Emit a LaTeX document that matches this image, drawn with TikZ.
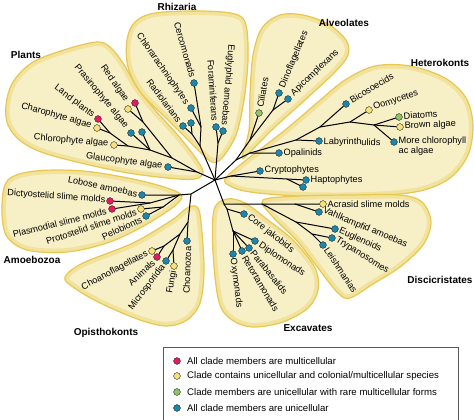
\documentclass[tikz,border=0pt]{standalone}
\usepackage{fontspec}
\setmainfont{Liberation Sans}
\pgfdeclarelayer{bg}
\pgfdeclarelayer{edges}
\pgfsetlayers{bg,edges,main}
\definecolor{blobfill}{RGB}{247,239,198}
\definecolor{blobrimc}{RGB}{241,226,156}
\definecolor{blobedge}{RGB}{232,199,82}
\definecolor{cRed}{RGB}{230,26,96}
\definecolor{cYel}{RGB}{246,226,120}
\definecolor{cGrn}{RGB}{140,198,105}
\definecolor{cBlu}{RGB}{26,135,175}
\tikzset{
 leaf/.style={circle,draw=black!85,line width=0.4pt,minimum size=6.8pt,inner sep=0pt},
 leafR/.style={leaf,fill=cRed},
 leafY/.style={leaf,fill=cYel},
 leafG/.style={leaf,fill=cGrn},
 leafB/.style={leaf,fill=cBlu},
 br/.style={draw=black,line width=1pt,line cap=round},
 lab/.style={font=\fontsize{9.2}{10}\selectfont,inner sep=0.5pt},
 legtxt/.style={font=\fontsize{9.6}{11}\selectfont,inner sep=0pt,anchor=west},
 ttl/.style={font=\fontsize{10}{12}\selectfont\bfseries,inner sep=0pt},
}
\newcommand\cladeblob[1]{%
 \fill[blobfill] plot[smooth cycle,tension=0.55] coordinates {#1};
 \begin{scope}
 \clip plot[smooth cycle,tension=0.55] coordinates {#1};
 \draw[blobrimc,line width=8pt] plot[smooth cycle,tension=0.55] coordinates {#1};
 \end{scope}
 \draw[blobedge,line width=1.2pt] plot[smooth cycle,tension=0.55] coordinates {#1};}
\begin{document}
\begin{tikzpicture}[x=1pt,y=-1pt]
\useasboundingbox (0,0) rectangle (474,420);
\begin{pgfonlayer}{bg}
% Plants
\cladeblob{(203,172) (195,157) (176,133) (155,110) (137,87) (123,63) (110,47) (97,42) (67,49) (33,62) (13,82) (6,105) (8,125) (22,142) (50,155) (117,171) (167,178) (195,179)}
% Rhizaria
\cladeblob{(212,162) (198,150) (168,120) (141,93) (128,67) (127,40) (135,22) (155,13) (200,11) (235,14) (246,25) (248,60) (244,100) (236,135) (222,158)}
% Alveolates
\cladeblob{(242,158) (249,130) (250,95) (253,55) (262,28) (280,15) (303,15) (328,24) (346,40) (348,55) (335,72) (305,100) (275,127) (252,150)}
% Heterokonts
\cladeblob{(225,179) (240,165) (262,148) (290,126) (318,102) (345,80) (375,66) (410,66) (445,78) (466,98) (473,125) (468,155) (450,178) (420,191) (370,196) (300,196) (250,192) (230,186)}
% Discicristates
\cladeblob{(263,200) (300,196) (350,195) (400,195) (422,202) (431,222) (423,245) (400,267) (373,284) (350,298) (338,293) (318,268) (298,242) (272,216)}
% Excavates
\cladeblob{(227,199) (245,203) (268,220) (294,241) (315,268) (318,290) (308,308) (283,322) (253,327) (232,320) (219,302) (213,253) (214,210)}
% Amoebozoa
\cladeblob{(182,196) (167,188) (133,179) (83,171) (35,171) (8,180) (2,205) (6,235) (27,250) (67,252) (107,243) (140,228) (172,208)}
% Opisthokonts
\cladeblob{(65,277) (83,263) (133,243) (172,220) (187,208) (197,207) (201,222) (204,270) (200,303) (187,320) (167,326) (140,320) (100,303) (73,287)}
\end{pgfonlayer}

% ---------- internal nodes ----------
\coordinate (R) at (215,180);
\coordinate (P1) at (197,172);
\coordinate (P2) at (172,158);
\coordinate (PR) at (143,122);
\coordinate (P3) at (150,150);
\coordinate (P4) at (128,146);
\coordinate (P5) at (110,133);
\coordinate (Z1) at (200,146);
\coordinate (ZR) at (192,134);
\coordinate (ZC) at (201,127);
\coordinate (ZF) at (218,143);
\coordinate (S) at (236,160);
\coordinate (A0) at (250,140);
\coordinate (AD) at (273,110);
\coordinate (H0) at (250,153);
\coordinate (H1) at (296,140);
\coordinate (H2) at (320,127);
\coordinate (H3) at (350,122);
\coordinate (H4) at (374,125);
\coordinate (C0) at (231,176);
\coordinate (CH) at (287,179);
\coordinate (X0) at (224,204);
\coordinate (D0) at (262,204);
\coordinate (DV) at (295,204);
\coordinate (E0) at (296,222);
\coordinate (E1) at (312,234);
\coordinate (X1) at (227,209);
\coordinate (X2) at (233,231);
\coordinate (U0) at (191,194);
\coordinate (A1) at (179,195);
\coordinate (AM1) at (150,203);
\coordinate (AM2) at (163,207);
\coordinate (O1) at (188,222);
\coordinate (O2) at (180,234);
\coordinate (OA) at (164,246);
\coordinate (OF) at (173,250);

% ---------- leaves ----------
\node[leafB] (glau) at (168,167) {};
\node[leafR] (redA) at (135,103) {};
\node[leafY] (redB) at (128,109) {};
\node[leafB] (prasA) at (131,133) {};
\node[leafB] (prasB) at (142,132) {};
\node[leafY] (chlo) at (114,145) {};
\node[leafR] (land) at (98,119) {};
\node[leafY] (charo) at (97,128) {};
\node[leafB] (rad1) at (183,126) {};
\node[leafB] (rad2) at (191,123) {};
\node[leafB] (cerc) at (194,83) {};
\node[leafB] (chlr) at (191,108) {};
\node[leafB] (fora) at (216,127) {};
\node[leafB] (eugA) at (223,131) {};
\node[leafG] (cil) at (259,113) {};
\node[leafB] (dino) at (279,93) {};
\node[leafB] (apic) at (288,99) {};
\node[leafB] (opal) at (279,153) {};
\node[leafB] (laby) at (319,141) {};
\node[leafB] (bico) at (346,104) {};
\node[leafY] (oomy) at (369,110) {};
\node[leafG] (diat) at (399,117) {};
\node[leafY] (brow) at (400,127) {};
\node[leafB] (more) at (394,142) {};
\node[leafB] (cryp) at (260,171) {};
\node[leafB] (hap1) at (306,180) {};
\node[leafB] (hap2) at (303,187) {};
\node[leafY] (acra) at (323,204) {};
\node[leafB] (vahl) at (319,212) {};
\node[leafB] (eugN) at (335,229) {};
\node[leafB] (tryp) at (332,238) {};
\node[leafB] (leis) at (323,245) {};
\node[leafB] (jako) at (244,214) {};
\node[leafB] (dipl) at (255,241) {};
\node[leafB] (para) at (249,248) {};
\node[leafB] (retr) at (242,251) {};
\node[leafB] (oxym) at (233,254) {};
\node[leafB] (lobo) at (142,195) {};
\node[leafR] (dict) at (110,201) {};
\node[leafR] (plas) at (112,209) {};
\node[leafY] (prot) at (141,209) {};
\node[leafB] (pelo) at (146,216) {};
\node[leafY] (chof) at (152,251) {};
\node[leafR] (anim) at (157,257) {};
\node[leafB] (micr) at (166,261) {};
\node[leafY] (fung) at (174,266) {};
\node[leafB] (choz) at (187,241) {};

% ---------- branches ----------
\begin{pgfonlayer}{edges}
% plants
\draw[br] (R) -- (P1) -- (glau);
\draw[br] (P1) -- (P2) -- (PR) -- (redA);
\draw[br] (PR) -- (redB);
\draw[br] (P2) -- (P3) -- (prasA);
\draw[br] (P3) -- (prasB);
\draw[br] (P3) -- (P4) -- (chlo);
\draw[br] (P4) -- (P5) -- (land);
\draw[br] (P5) -- (charo);
% rhizaria
\draw[br] (R) -- (Z1) -- (ZR) -- (rad1);
\draw[br] (ZR) -- (rad2);
\draw[br] (Z1) -- (ZC) -- (cerc);
\draw[br] (ZC) -- (chlr);
\draw[br] (R) -- (ZF) -- (fora);
\draw[br] (ZF) -- (eugA);
% alveolates + heterokonts
\draw[br] (R) -- (S) -- (A0) -- (cil);
\draw[br] (A0) -- (AD) -- (dino);
\draw[br] (AD) -- (apic);
\draw[br] (S) -- (H0) -- (opal);
\draw[br] (H0) -- (H1) -- (laby);
\draw[br] (H1) -- (H2) -- (bico);
\draw[br] (H2) -- (H3) -- (oomy);
\draw[br] (H3) -- (H4) -- (diat);
\draw[br] (H4) -- (brow);
\draw[br] (H4) -- (more);
% cryptophytes / haptophytes
\draw[br] (R) -- (C0) -- (cryp);
\draw[br] (C0) -- (CH) -- (hap1);
\draw[br] (CH) -- (hap2);
% excavates / discicristates
\draw[br] (R) -- (X0) -- (D0) -- (DV) -- (acra);
\draw[br] (DV) -- (vahl);
\draw[br] (D0) -- (E0) -- (eugN);
\draw[br] (E0) -- (E1) -- (tryp);
\draw[br] (E1) -- (leis);
\draw[br] (X0) -- (X1) -- (jako);
\draw[br] (X1) -- (X2) -- (dipl);
\draw[br] (X2) -- (para);
\draw[br] (X2) -- (retr);
\draw[br] (X2) -- (oxym);
% amoebozoa / opisthokonts
\draw[br] (R) -- (U0) -- (A1) -- (lobo);
\draw[br] (A1) -- (AM1) -- (dict);
\draw[br] (AM1) -- (plas);
\draw[br] (A1) -- (AM2) -- (prot);
\draw[br] (AM2) -- (pelo);
\draw[br] (U0) -- (O1) -- (choz);
\draw[br] (O1) -- (O2) -- (OA) -- (chof);
\draw[br] (OA) -- (anim);
\draw[br] (O2) -- (OF) -- (micr);
\draw[br] (OF) -- (fung);
\end{pgfonlayer}

% ---------- labels ----------
\node[lab,anchor=east,rotate=-55] (tRed) at (127,101) {Red algae};
\node[lab,anchor=east,rotate=-50] (tPras) at (127,127) {Prasinophyte algae};
\node[lab,anchor=east,rotate=-37] (tLand) at (94,116) {Land plants};
\node[lab,anchor=east,rotate=-16] (tChar) at (92,126) {Charophyte algae};
\node[lab,anchor=east,rotate=-5] (tChlo) at (109,144) {Chlorophyte algae};
\node[lab,anchor=east,rotate=-7] (tGlau) at (163,166) {Glaucophyte algae};

\node[lab,anchor=east,rotate=-55] (tChlr) at (187,104) {Chlorarachniophytes};
\node[lab,anchor=east,rotate=-74] (tCerc) at (193,78) {Cercomonads};
\node[lab,anchor=east,rotate=-53] (tRad) at (180,122) {Radiolarians};
\node[lab,anchor=east,rotate=-86] (tFora) at (215,122) {Foraminiferans};
\node[lab,anchor=east,rotate=-95] (tEugA) at (224,126) {Euglyphid amoebas};

\node[lab,anchor=west,rotate=80] (tCil) at (260,108) {Ciliates};
\node[lab,anchor=west,rotate=67] (tDino) at (282,88) {Dinoflagellates};
\node[lab,anchor=west,rotate=44] (tApic) at (292,95) {Apicomplexans};

\node[lab,anchor=west,rotate=31] (tBico) at (350,101) {Bicosoecids};
\node[lab,anchor=west,rotate=18] (tOomy) at (373,108) {Oomycetes};
\node[lab,anchor=west,rotate=4] (tDiat) at (403,116) {Diatoms};
\node[lab,anchor=west,rotate=2] (tBrow) at (404,126) {Brown algae};
\node[lab,anchor=north west,align=left] (tMore) at (398,136) {More chlorophyll\\ac algae};
\node[lab,anchor=west,rotate=-1] (tLaby) at (323,142) {Labyrinthulids};
\node[lab,anchor=west] (tOpal) at (283,153) {Opalinids};
\node[lab,anchor=west] (tCryp) at (264,170) {Cryptophytes};
\node[lab,anchor=west] (tHap) at (310,180) {Haptophytes};

\node[lab,anchor=west] (tAcra) at (327,204) {Acrasid slime molds};
\node[lab,anchor=west,rotate=-23] (tVahl) at (323,210) {Vahlkampfid amoebas};
\node[lab,anchor=west,rotate=-25] (tEugN) at (339,230) {Euglenoids};
\node[lab,anchor=west,rotate=-32] (tTryp) at (336,239) {Trypanosomes};
\node[lab,anchor=west,rotate=-56] (tLeis) at (326,248) {Leishmanias};

\node[lab,anchor=west,rotate=-38] (tJako) at (248,216) {Core jakobids};
\node[lab,anchor=west,rotate=-34] (tDipl) at (259,244) {Diplomonads};
\node[lab,anchor=west,rotate=-51] (tPara) at (252,251) {Parabasalids};
\node[lab,anchor=west,rotate=-59] (tRetr) at (244,256) {Retortamonads};
\node[lab,anchor=west,rotate=-83] (tOxym) at (233,258) {Oxymonads};

\node[lab,anchor=east,rotate=-12] (tLobo) at (138,194) {Lobose amoebas};
\node[lab,anchor=east,rotate=-4] (tDict) at (106,200) {Dictyostelid slime molds};
\node[lab,anchor=east,rotate=14] (tPlas) at (107,211) {Plasmodial slime molds};
\node[lab,anchor=east,rotate=18] (tProt) at (137,212) {Protostelid slime molds};
\node[lab,anchor=east,rotate=25] (tPelo) at (142,219) {Pelobionts};

\node[lab,anchor=east,rotate=28] (tChof) at (148,253) {Choanoflagellates};
\node[lab,anchor=east,rotate=43] (tAnim) at (154,261) {Animals};
\node[lab,anchor=east,rotate=53] (tMicr) at (164,265) {Microsporidia};
\node[lab,anchor=east,rotate=80] (tFung) at (174,270) {Fungi};
\node[lab,anchor=east,rotate=88] (tChoz) at (188,246) {Choanozoa};

% ---------- clade titles ----------
\node[ttl] (gRhiz) at (177,7) {Rhizaria};
\node[ttl] (gPlan) at (26,55) {Plants};
\node[ttl] (gAlve) at (344,23) {Alveolates};
\node[ttl] (gHete) at (440,63) {Heterokonts};
\node[ttl] (gAmoe) at (32,260) {Amoebozoa};
\node[ttl] (gOpis) at (106,333) {Opisthokonts};
\node[ttl] (gExca) at (308,328) {Excavates};
\node[ttl] (gDisc) at (440,280) {Discicristates};

% ---------- legend ----------
\node[draw=black!65,line width=0.9pt,anchor=north west,minimum width=295pt,minimum height=73pt,inner sep=0pt] (legend) at (163,347) {};
\node[leafR] (kR) at (177,361) {};
\node[leafY] (kY) at (177,376) {};
\node[leafG] (kG) at (177,392) {};
\node[leafB] (kB) at (177,408) {};
\node[legtxt] (kRt) at (187,361) {All clade members are multicellular};
\node[legtxt] (kYt) at (187,376) {Clade contains unicellular and colonial/multicellular species};
\node[legtxt] (kGt) at (187,392) {Clade members are unicellular with rare multicellular forms};
\node[legtxt] (kBt) at (187,408) {All clade members are unicellular};
\end{tikzpicture}
\end{document}
